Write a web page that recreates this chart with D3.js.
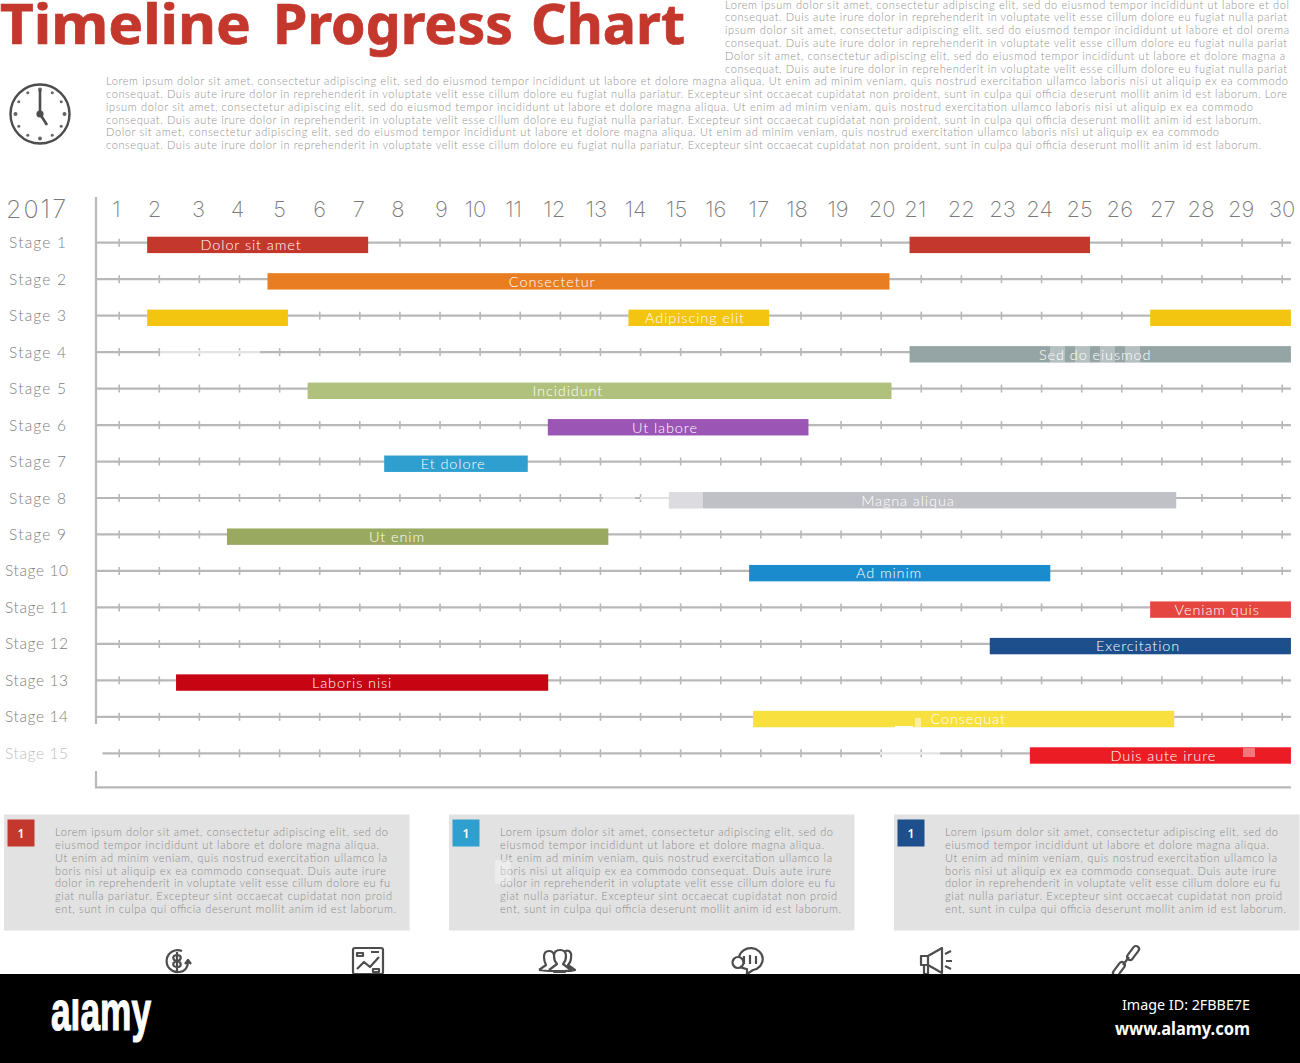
<!DOCTYPE html>
<html>
<head>
<meta charset="utf-8">
<script src="https://cdn.jsdelivr.net/npm/d3@7"></script>
<style>
  html, body { margin: 0; padding: 0; background: #fff; }
  svg { display: block; }
  text { font-family: Lato, "Open Sans", sans-serif; font-weight: 300; }
</style>
</head>
<body>
<svg id="chart" width="1300" height="1063" viewBox="0 0 1300 1063"></svg>
<script>
(function () {
  'use strict';

  var days = d3.range(1, 31);
  var stages = ['Stage 1', 'Stage 2', 'Stage 3', 'Stage 4', 'Stage 5', 'Stage 6', 'Stage 7', 'Stage 8',
    'Stage 9', 'Stage 10', 'Stage 11', 'Stage 12', 'Stage 13', 'Stage 14', 'Stage 15'];

  // one entry per bar, values are read in days off the header scale
  var barStage = ['Stage 1', 'Stage 1', 'Stage 2', 'Stage 3', 'Stage 3', 'Stage 3', 'Stage 4', 'Stage 5',
    'Stage 6', 'Stage 7', 'Stage 8', 'Stage 9', 'Stage 10', 'Stage 11', 'Stage 12', 'Stage 13', 'Stage 14', 'Stage 15'];
  var barStart = [1.71, 20.72, 4.71, 1.71, 13.71, 26.72, 20.72, 5.71, 11.7, 7.62, 14.72, 3.7, 16.72, 26.72, 22.72, 2.43, 16.82, 23.72];
  var barEnd = [7.22, 25.22, 20.22, 5.22, 17.22, 30.23, 30.23, 20.27, 18.2, 11.2, 27.37, 13.21, 24.23, 30.23, 30.23, 11.71, 27.32, 30.23];
  var barLabel = ['Dolor sit amet', '', 'Consectetur', '', 'Adipiscing elit', '', 'Sed do eiusmod', 'Incididunt',
    'Ut labore', 'Et dolore', 'Magna aliqua', 'Ut enim', 'Ad minim', 'Veniam quis', 'Exercitation', 'Laboris nisi', 'Consequat', 'Duis aute irure'];
  var barLabelDay = [4.3, 0, 11.81, 0, 15.37, 0, 25.35, 12.2, 14.62, 9.34, 20.68, 7.94, 20.21, 28.39, 26.42, 6.82, 22.18, 27.05];

  var stageColors = ['#c4372c', '#e87e21', '#f4c510', '#95a5a6', '#afc17c', '#9b55b5', '#2e9fcf', '#c0c0c7',
    '#9aa960', '#1a8ccd', '#e54640', '#1d4f8c', '#c60412', '#f8e03f', '#ec1c24'];

  var titleWords = ['Timeline', 'Progress', 'Chart'];
  var titleStarts = [0, 273, 531];
  var titleEnds = [251, 513, 685];

  var topLines = [
    'Lorem ipsum dolor sit amet, consectetur adipiscing elit, sed do eiusmod tempor incididunt ut labore et dol',
    'consequat. Duis aute irure dolor in reprehenderit in voluptate velit esse cillum dolore eu fugiat nulla pariat',
    'ipsum dolor sit amet, consectetur adipiscing elit, sed do eiusmod tempor incididunt ut labore et dol orema',
    'consequat. Duis aute irure dolor in reprehenderit in voluptate velit esse cillum dolore eu fugiat nulla pariat',
    'Dolor sit amet, consectetur adipiscing elit, sed do eiusmod tempor incididunt ut labore et dolore magna a',
    'consequat. Duis aute irure dolor in reprehenderit in voluptate velit esse cillum dolore eu fugiat nulla pariat'
  ];
  var topEnds = [1289, 1287, 1289, 1287, 1285, 1287];

  var introLines = [
    'Lorem ipsum dolor sit amet, consectetur adipiscing elit, sed do eiusmod tempor incididunt ut labore et dolore magna aliqua. Ut enim ad minim veniam, quis nostrud exercitation ullamco laboris nisi ut aliquip ex ea commodo',
    'consequat. Duis aute irure dolor in reprehenderit in voluptate velit esse cillum dolore eu fugiat nulla pariatur. Excepteur sint occaecat cupidatat non proident, sunt in culpa qui officia deserunt mollit anim id est laborum. Lore',
    'ipsum dolor sit amet, consectetur adipiscing elit, sed do eiusmod tempor incididunt ut labore et dolore magna aliqua. Ut enim ad minim veniam, quis nostrud exercitation ullamco laboris nisi ut aliquip ex ea commodo',
    'consequat. Duis aute irure dolor in reprehenderit in voluptate velit esse cillum dolore eu fugiat nulla pariatur. Excepteur sint occaecat cupidatat non proident, sunt in culpa qui officia deserunt mollit anim id est laborum.',
    'Dolor sit amet, consectetur adipiscing elit, sed do eiusmod tempor incididunt ut labore et dolore magna aliqua. Ut enim ad minim veniam, quis nostrud exercitation ullamco laboris nisi ut aliquip ex ea commodo',
    'consequat. Duis aute irure dolor in reprehenderit in voluptate velit esse cillum dolore eu fugiat nulla pariatur. Excepteur sint occaecat cupidatat non proident, sunt in culpa qui officia deserunt mollit anim id est laborum.'
  ];
  var introEnds = [1288, 1287, 1253, 1261, 1219, 1261];

  var panelLines = [
    'Lorem ipsum dolor sit amet, consectetur adipiscing elit, sed do',
    'eiusmod tempor incididunt ut labore et dolore magna aliqua.',
    'Ut enim ad minim veniam, quis nostrud exercitation ullamco la',
    'boris nisi ut aliquip ex ea commodo consequat. Duis aute irure',
    'dolor in reprehenderit in voluptate velit esse cillum dolore eu fu',
    'giat nulla pariatur. Excepteur sint occaecat cupidatat non proid',
    'ent, sunt in culpa qui officia deserunt mollit anim id est laborum.'
  ];
  var panelLineWidths = [333, 324, 332, 331, 335, 337, 341];
  var panelX = [4, 449, 894];
  var panelColors = ['#c4372c', '#2e9fcf', '#1d4f8c'];

  // the printed header numbers do not sit exactly over their ticks
  var dayLabelNudge = [-2.7, -4.8, -1, -2, 0, 0, -1, -2, 1.5, -4.6, -6.7, -6, -4, -5, -4, -5, -2, -4, -3, 1, -6, 0, 1, -2, -2, -2, 1, -1, -1, 0];

  var gridColor = '#b8b8b8';
  var iconColor = '#4d4d4d';
  var bodyColor = '#939393';

  var svg = d3.select('#chart');
  var x = d3.scaleLinear().domain([1, 30]).range([118.7, 1281.7]);
  var y = d3.scalePoint().domain(stages).range([242.7, 753.3]);
  var lineEnd = x(30.23);

  // Header texts.
  svg.selectAll('.title')
    .data(titleWords).enter()
    .append('text')
    .attr('class', 'title')
    .attr('x', function (d, i) { return titleStarts[i]; })
    .attr('y', 43.5)
    .attr('textLength', function (d, i) { return titleEnds[i] - titleStarts[i]; })
    .attr('lengthAdjust', 'spacingAndGlyphs')
    .style('font-family', '"Noto Sans", sans-serif').style('font-weight', 700)
    .style('font-size', '55px')
    .attr('fill', '#c4372c').attr('stroke', '#c4372c').attr('stroke-width', 0.7)
    .text(function (d) { return d; });

  var addLines = function (parent, lines, startX, firstY, lineHeight, widths, color, fontSize) {
    parent.selectAll(null)
      .data(lines).enter()
      .append('text')
      .attr('x', startX)
      .attr('y', function (d, i) { return firstY + i * lineHeight; })
      .attr('textLength', function (d, i) { return widths[i]; })
      .attr('lengthAdjust', 'spacing')
      .attr('fill', color)
      .style('font-size', fontSize + 'px')
      .text(function (d) { return d; });
  };

  addLines(svg, topLines, 725, 8.5, 12.9, topEnds.map(function (e) { return e - 725; }), bodyColor, 11);
  addLines(svg, introLines, 106, 85, 12.85, introEnds.map(function (e) { return e - 106; }), bodyColor, 11);

  // Clock.
  var clock = svg.append('g').attr('transform', 'translate(40,114)');
  clock.append('circle').attr('r', 29.5).attr('fill', 'none').attr('stroke', iconColor).attr('stroke-width', 2.4);
  clock.selectAll(null)
    .data(d3.range(12)).enter()
    .append('circle')
    .attr('cx', function (d) { return 24.5 * Math.sin(d * Math.PI / 6); })
    .attr('cy', function (d) { return -24.5 * Math.cos(d * Math.PI / 6); })
    .attr('r', function (d) { return d % 3 === 0 ? 2 : 1.5; })
    .attr('fill', '#666');
  clock.append('path').attr('d', 'M0,0V-24M0,0L7,11').attr('stroke', iconColor).attr('stroke-width', 2.6).attr('fill', 'none');
  clock.append('circle').attr('r', 3.6).attr('fill', iconColor);

  // Frame and day numbers.
  svg.append('path')
    .attr('d', 'M96,197V787.3H' + lineEnd)
    .attr('fill', 'none').attr('stroke', gridColor).attr('stroke-width', 2.2);

  svg.append('text')
    .attr('x', 6).attr('y', 218).attr('textLength', 60)
    .attr('fill', '#7a7a7a').style('font-family', 'Inter, sans-serif').style('font-weight', 200)
    .style('font-size', '25px').text('2017');

  var dayAxis = svg.append('g')
    .attr('transform', 'translate(0,217)')
    .call(d3.axisTop(x).tickValues(days).tickFormat(d3.format('d')).tickSize(0).tickPadding(0));
  dayAxis.select('.domain').remove();
  dayAxis.selectAll('text')
    .attr('dx', function (d, i) { return dayLabelNudge[i]; })
    .attr('fill', '#7a7a7a')
    .style('font-family', 'Inter, sans-serif')
    .style('font-weight', 200)
    .style('font-size', '22px');

  // Stage rows.
  var tickAxis = d3.axisBottom(x).tickValues(days).tickFormat('').tickSize(8);
  var rows = svg.selectAll('.row')
    .data(stages).enter()
    .append('g')
    .attr('class', 'row')
    .attr('transform', function (d) { return 'translate(0,' + y(d) + ')'; });
  rows.append('line')
    .attr('x1', 97).attr('x2', lineEnd)
    .attr('stroke', gridColor).attr('stroke-width', 2.2);
  rows.append('g')
    .attr('transform', 'translate(0,-4)')
    .call(tickAxis)
    .call(function (g) {
      g.select('.domain').remove();
      g.selectAll('line').attr('stroke', gridColor).attr('stroke-width', 1.6);
    });

  var stageAxis = svg.append('g')
    .attr('transform', 'translate(66,0)')
    .call(d3.axisLeft(y).tickSize(0).tickPadding(0));
  stageAxis.select('.domain').remove();
  stageAxis.selectAll('text')
    .attr('text-anchor', 'start')
    .attr('x', function (d) { return d.length > 7 ? -61 : -57; })
    .attr('dy', 5)
    .attr('fill', function (d) { return d === 'Stage 15' ? '#c0c0c0' : '#808080'; })
    .style('font-family', 'Lato, sans-serif')
    .style('font-weight', 300)
    .style('font-size', '15.5px')
    .style('letter-spacing', function (d) { return d.length > 7 ? '0.6px' : '1.2px'; });

  // Bars.
  svg.selectAll('.bar')
    .data(barStage).enter()
    .append('rect')
    .attr('class', 'bar')
    .attr('x', function (d, i) { return x(barStart[i]); })
    .attr('y', function (d) { return y(d) - 6; })
    .attr('width', function (d, i) { return x(barEnd[i]) - x(barStart[i]); })
    .attr('height', 16.4)
    .attr('fill', function (d) { return stageColors[stages.indexOf(d)]; });

  svg.selectAll('.bar-label')
    .data(barStage).enter()
    .append('text')
    .attr('class', 'bar-label')
    .attr('x', function (d, i) { return x(barLabelDay[i]); })
    .attr('y', function (d) { return y(d) + 7.5; })
    .attr('text-anchor', 'middle')
    .attr('fill', '#fff')
    .style('font-size', '14.5px')
    .style('letter-spacing', '0.9px')
    .text(function (d, i) { return barLabel[i]; });

  // Panels.
  var panels = svg.selectAll('.panel')
    .data(panelX).enter()
    .append('g')
    .attr('class', 'panel')
    .attr('transform', function (d) { return 'translate(' + d + ',814.5)'; });
  panels.append('rect').attr('width', 405.5).attr('height', 116).attr('fill', '#e2e2e2');
  panels.append('rect')
    .attr('x', 3.5).attr('y', 5).attr('width', 27).attr('height', 27)
    .attr('fill', function (d, i) { return panelColors[i]; });
  panels.append('text')
    .attr('x', 17).attr('y', 23).attr('text-anchor', 'middle')
    .attr('fill', '#fff')
    .style('font-family', '"Noto Sans", sans-serif').style('font-weight', 600).style('font-size', '12px')
    .text('1');
  panels.each(function () {
    addLines(d3.select(this), panelLines, 51, 21.5, 12.85, panelLineWidths, '#8a8a8a', 11);
  });

  // Pale stock-photo watermark patches that lie over the chart.
  var watermarkX = [94, 603, 640, 669, 1050, 1075, 1100, 1125, 895, 915, 1243, 160, 495, 880];
  var watermarkY = [724, 497, 497, 492, 346, 346, 346, 346, 726, 718, 748, 350, 860, 752];
  var watermarkW = [8.5, 32, 29, 34, 15, 15, 15, 15, 18, 6, 12, 100, 16, 60];
  var watermarkH = [47, 3, 3, 16.4, 16.4, 16.4, 16.4, 16.4, 2, 9, 9, 4, 24, 3];
  var watermarkOpacity = [1, 0.6, 0.6, 0.45, 0.3, 0.3, 0.3, 0.3, 0.95, 0.5, 0.4, 0.6, 0.35, 0.6];
  svg.selectAll('.watermark')
    .data(watermarkX).enter()
    .append('rect')
    .attr('class', 'watermark')
    .attr('x', function (d) { return d; })
    .attr('y', function (d, i) { return watermarkY[i]; })
    .attr('width', function (d, i) { return watermarkW[i]; })
    .attr('height', function (d, i) { return watermarkH[i]; })
    .attr('fill', '#fff')
    .attr('opacity', function (d, i) { return watermarkOpacity[i]; });

  // Icon row, the black footer cuts their lower edge.
  var iconPaths = [
    { at: [177, 961], d: 'M5,-10A11,11 0 1 0 2,11C8,11 11,6 11,1M8,3L11,-1L14,3M0,-9V10M0,-6C-5,-6 -5,-1 0,0C5,1 5,6 0,6C-5,6 -5,1 0,0C5,-1 5,-6 0,-6' },
    { at: [368, 961], d: 'M-13,-13H13Q15,-13 15,-11V11Q15,13 13,13H-13Q-15,13 -15,11V-11Q-15,-13 -13,-13ZM-11,-8H-5V-5H-11ZM3,-9H11M-11,8L-4,1L2,6L11,-4M5,8H11V11H5Z' },
    { at: [557, 961], d: 'M-18,9L-11,4Q-13,0 -13,-4Q-13,-10 -8,-10Q-4,-10 -3,-6M-3,9V11H8V9M-8,9L0,3Q-3,0 -3,-5Q-3,-11 3,-11Q9,-11 9,-5Q9,0 6,3L14,9L8,10M7,-9Q9,-11 12,-10Q15,-8 14,-3Q14,1 11,4L18,9L14,10M-18,9L-9,10H14' },
    { at: [747, 961], d: 'M-8,-4A12,11 0 1 1 6,9L0,13V8Q-4,8 -7,5M-9,-4A5.5,5.5 0 1 0 -9,7A5.5,5.5 0 1 0 -9,-4M-3,-5V3M3,-6V3M9,-5V3' },
    { at: [937, 961], d: 'M-16,-5H-9V4H-16ZM-13,4V13H-9V4M-9,-5L5,-13V12L-9,4M8,-7L14,-10M9,0H15M8,5L14,8' },
    { at: [1126, 961], d: 'M6.4,-2.2L12.4,-10.2A3,3 0 0 0 7.6,-13.8L1.6,-5.8A3,3 0 0 0 6.4,-2.2ZM-7.6,13.8L-1.6,5.8A3,3 0 0 0 -6.4,2.2L-12.4,10.2A3,3 0 0 0 -7.6,13.8ZM-3,4L3,-4' }
  ];
  svg.selectAll('.icon')
    .data(iconPaths).enter()
    .append('path')
    .attr('class', 'icon')
    .attr('transform', function (d) { return 'translate(' + d.at + ')'; })
    .attr('d', function (d) { return d.d; })
    .attr('fill', 'none').attr('stroke', iconColor).attr('stroke-width', 2.2)
    .attr('stroke-linejoin', 'round');

  // Footer strip.
  svg.append('rect').attr('y', 974).attr('width', 1300).attr('height', 89).attr('fill', '#000');
  svg.append('clipPath').attr('id', 'logo-clip')
    .append('rect').attr('x', 40).attr('y', 999).attr('width', 130).attr('height', 50);
  svg.append('text')
    .attr('x', 51).attr('y', 1030)
    .attr('textLength', 100).attr('lengthAdjust', 'spacingAndGlyphs')
    .attr('clip-path', 'url(#logo-clip)')
    .style('font-family', '"Liberation Sans", sans-serif').style('font-weight', 700).style('font-size', '56px')
    .attr('fill', '#fff').attr('stroke', '#fff').attr('stroke-width', 1.2)
    .text('alamy');
  svg.append('text')
    .attr('x', 1122).attr('y', 1010)
    .attr('textLength', 128).attr('lengthAdjust', 'spacingAndGlyphs')
    .style('font-family', '"Noto Sans", sans-serif').style('font-weight', 400).style('font-size', '15px')
    .attr('fill', '#fff').text('Image ID: 2FBBE7E');
  svg.append('text')
    .attr('x', 1115).attr('y', 1035)
    .attr('textLength', 135).attr('lengthAdjust', 'spacingAndGlyphs')
    .style('font-family', '"Noto Sans", sans-serif').style('font-weight', 700).style('font-size', '17px')
    .attr('fill', '#fff').text('www.alamy.com');
}());
</script>
</body>
</html>
